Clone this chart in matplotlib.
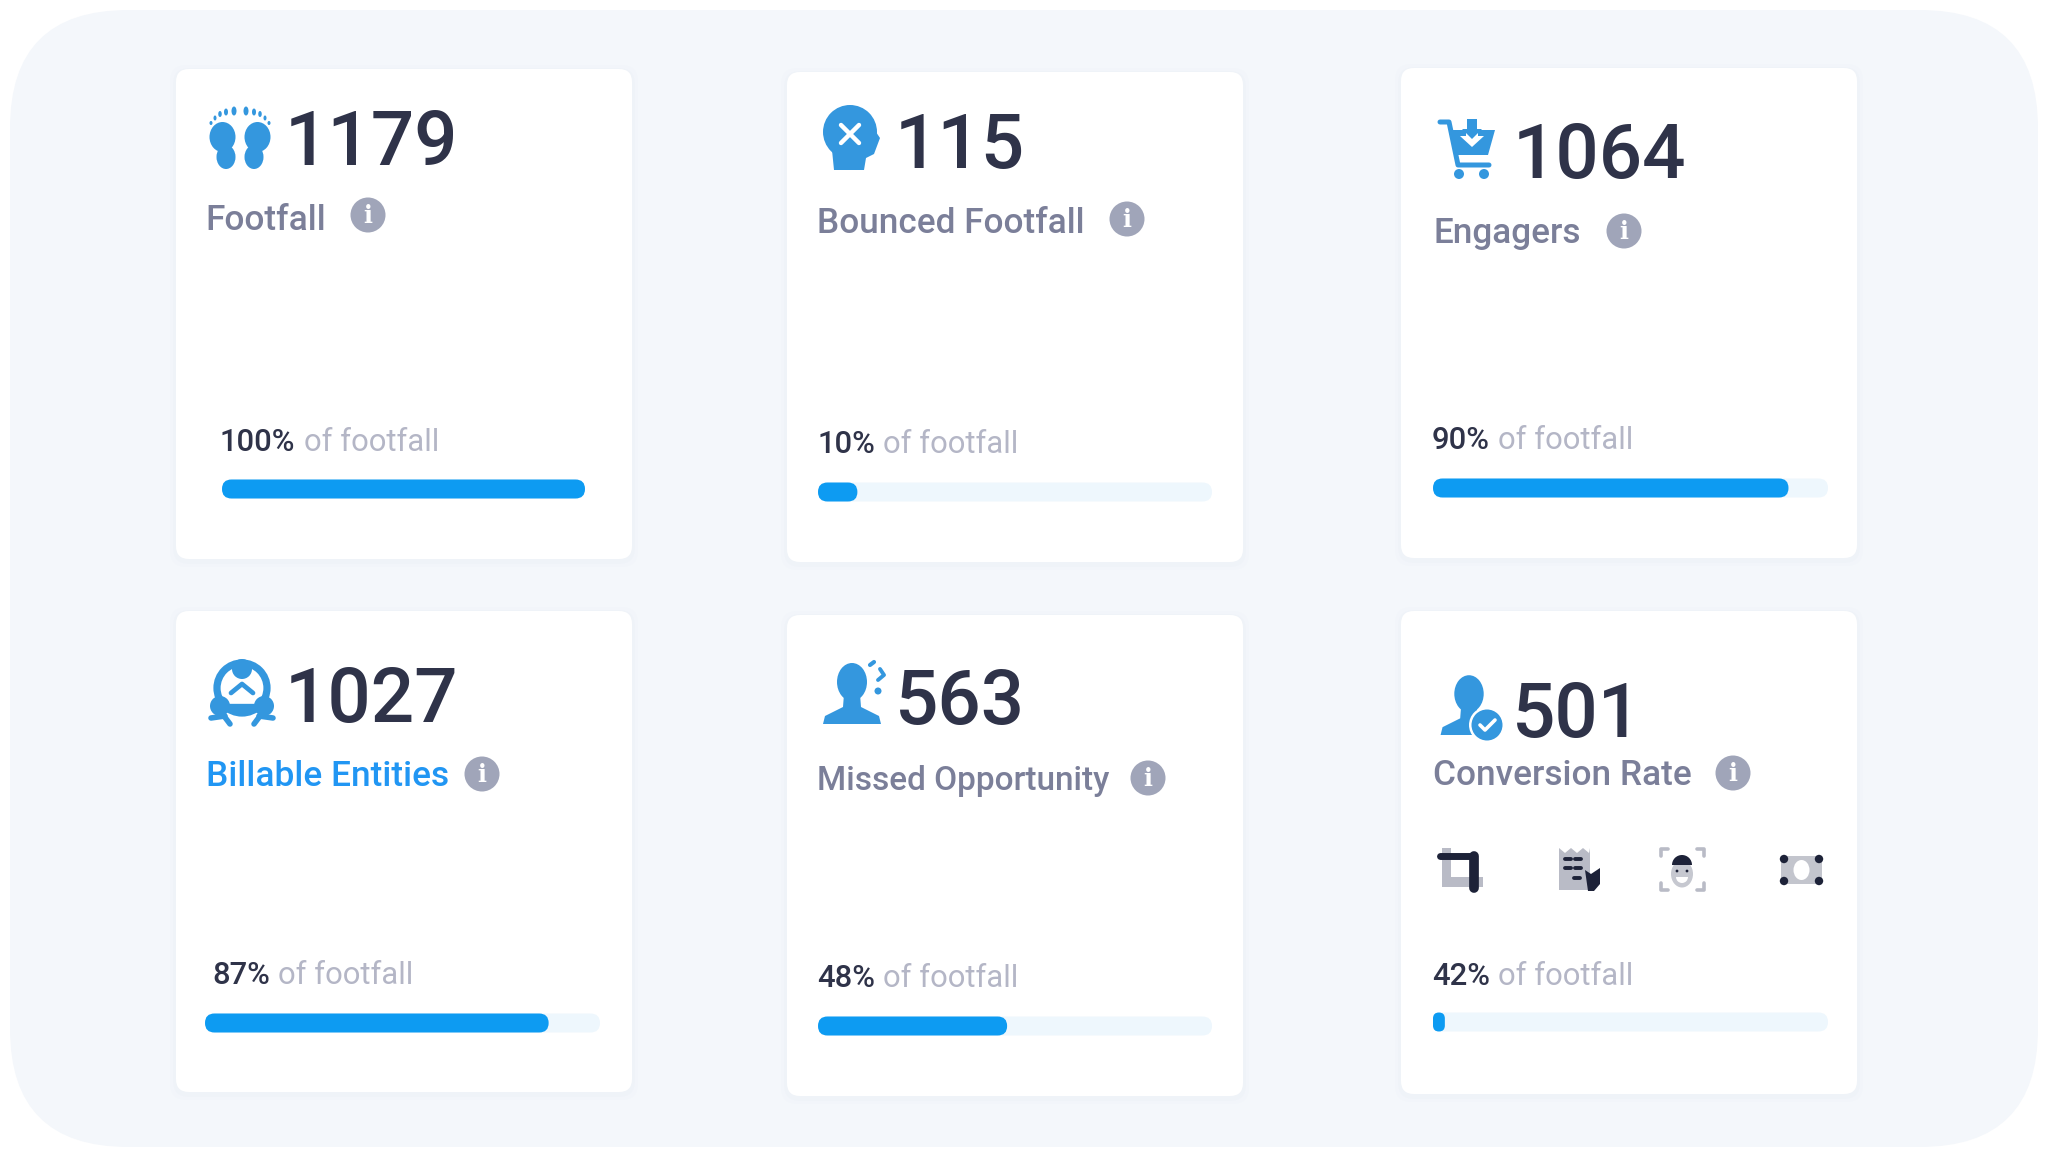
import matplotlib
matplotlib.use("Agg")
import matplotlib.pyplot as plt
from matplotlib.patches import FancyBboxPatch, Circle, Ellipse, Polygon, Rectangle, Wedge

# ------ data ------
titres = ["Footfall", "Bounced Footfall", "Engagers", "Billable Entities", "Missed Opportunity", "Conversion Rate"]
valeurs = ["1179", "115", "1064", "1027", "563", "501"]
pourcents = ["100%", "10%", "90%", "87%", "48%", "42%"]
remplissage = [1.00, 0.10, 0.90, 0.87, 0.48, 0.03]  # the last bar really is almost empty in the source

# ------ layout (pixels), one entry per card ------
cartes = [(176, 69, 456, 490), (787, 72, 456, 490), (1401, 68, 456, 490),
          (176, 611, 456, 481), (787, 615, 456, 481), (1401, 611, 456, 483)]
pos_valeur = [(285, 165), (895, 168), (1513, 178), (285, 722), (895, 724), (1512, 737)]
pos_titre = [(205, 230), (817, 233), (1433, 243), (206, 786), (817, 790), (1433, 785)]
taille_titre = [25.4, 25.3, 25.3, 25.4, 24.0, 25.4]
pos_info = [(368, 215), (1127, 219), (1624, 231), (482, 774), (1148, 778), (1733, 773)]
pos_pct = [(220, 451), (817, 453), (1432, 449), (212, 984), (817, 987), (1432, 985)]
barres = [(222, 585, 489), (818, 1212, 492), (1433, 1828, 488),
          (205, 600, 1023), (818, 1212, 1026), (1433, 1828, 1022)]

FOND = "#f4f7fb"
BLEU_ICONE = "#3497de"
BLEU_BARRE = "#0d9bf2"
PISTE = "#eef7fd"
SOMBRE = "#2f3349"
GRIS_TITRE = "#7b7f99"
GRIS_CLAIR = "#b4b6c6"
GRIS_INFO = "#a0a5b9"
GRIS_ICONE = "#b9bbc6"
NOIR_ICONE = "#1d2238"

plt.rcParams["font.family"] = ["Roboto", "DejaVu Sans"]

fig = plt.figure(figsize=(20.48, 11.58), dpi=100, facecolor="white")
ax = fig.add_axes([0, 0, 1, 1])
ax.set_xlim(0, 2048)
ax.set_ylim(1158, 0)
ax.axis("off")


def arrondi(x, y, w, h, r, couleur, z=1, **kw):
    p = FancyBboxPatch((x, y), w, h, boxstyle=f"round,pad=0,rounding_size={r}",
                       facecolor=couleur, edgecolor="none", zorder=z, **kw)
    ax.add_patch(p)
    return p


def trait(xs, ys, couleur, lw, z=5, cap="round"):
    ax.plot(xs, ys, color=couleur, lw=lw, solid_capstyle=cap, solid_joinstyle="round", zorder=z)


def personne(cx, bas, echelle, couleur):
    # head, neck and shoulders silhouette
    ax.add_patch(Ellipse((cx, bas - 42 * echelle), 30 * echelle, 38 * echelle, color=couleur, lw=0, zorder=5))
    ax.add_patch(Polygon([(cx - 29 * echelle, bas), (cx - 27 * echelle, bas - 8 * echelle),
                          (cx - 9 * echelle, bas - 17 * echelle), (cx - 8 * echelle, bas - 30 * echelle),
                          (cx + 8 * echelle, bas - 30 * echelle), (cx + 9 * echelle, bas - 17 * echelle),
                          (cx + 27 * echelle, bas - 8 * echelle), (cx + 29 * echelle, bas)],
                         closed=True, color=couleur, lw=0, zorder=5))


def icone_pieds():
    for sens in (-1, 1):
        ax.add_patch(Ellipse((240 + sens * 17.5, 137), 26, 30, color=BLEU_ICONE, lw=0, zorder=5))
        ax.add_patch(Ellipse((240 + sens * 14, 157), 19, 24, color=BLEU_ICONE, lw=0, zorder=5))
        orteils = [(6, 111, 5, 9), (14, 112, 4, 7), (20, 114, 3.5, 6), (25, 118, 3, 5), (29, 123, 3, 4)]
        for dx, y, w, h in orteils:
            ax.add_patch(Ellipse((240 + sens * dx, y), w, h, color=BLEU_ICONE, lw=0, zorder=5))


def icone_tete():
    ax.add_patch(Circle((850, 132), 27, color=BLEU_ICONE, lw=0, zorder=5))
    ax.add_patch(Polygon([(832, 150), (834, 170), (864, 170), (866, 158), (874, 154), (880, 138), (872, 126)],
                         closed=True, color=BLEU_ICONE, lw=0, zorder=5))
    trait([841, 859], [125, 143], "white", 3.2, z=6)
    trait([859, 841], [125, 143], "white", 3.2, z=6)


def icone_panier():
    trait([1440, 1449, 1458, 1489], [122, 122, 165, 165], BLEU_ICONE, 3.6)
    ax.add_patch(Polygon([(1449, 130), (1495, 130), (1488, 155), (1455, 155)], closed=True,
                         color=BLEU_ICONE, lw=0, zorder=5))
    ax.add_patch(Polygon([(1466, 128), (1478, 128), (1478, 136), (1484, 136), (1472, 147), (1460, 136), (1466, 136)],
                         closed=True, color="white", lw=0, zorder=6))
    ax.add_patch(Polygon([(1467, 119), (1477, 119), (1477, 129), (1482, 129), (1472, 139), (1462, 129), (1467, 129)],
                         closed=True, color=BLEU_ICONE, lw=0, zorder=7))
    for x in (1459, 1484):
        ax.add_patch(Circle((x, 174), 5, color=BLEU_ICONE, lw=0, zorder=5))


def icone_entites():
    ax.add_patch(Ellipse((242, 688), 50, 50, fill=False, ec=BLEU_ICONE, lw=5.2, zorder=5))
    ax.add_patch(Circle((242, 669), 10, color=BLEU_ICONE, lw=0, zorder=6))
    trait([231, 242, 253], [693, 684, 693], BLEU_ICONE, 3.4)
    trait([224, 260], [708, 708], BLEU_ICONE, 6)
    for cx, sens in ((220, -1), (264, 1)):
        ax.add_patch(Circle((cx, 706), 10, color=BLEU_ICONE, lw=0, zorder=6))
        trait([cx + 9 * sens, cx - 5 * sens], [718, 716], BLEU_ICONE, 4)
        trait([cx - 4 * sens, cx - 10 * sens], [716, 724], BLEU_ICONE, 4)


def icone_manquee():
    personne(852, 724, 1.0, BLEU_ICONE)
    trait([870, 874], [665, 662], BLEU_ICONE, 3)
    trait([880, 884, 878], [669, 675, 680], BLEU_ICONE, 2.8)
    ax.add_patch(Circle((878, 691), 3.5, color=BLEU_ICONE, lw=0, zorder=5))


def icone_conversion():
    personne(1469, 735, 0.98, BLEU_ICONE)
    ax.add_patch(Circle((1487, 725), 18, color="white", lw=0, zorder=6))
    ax.add_patch(Circle((1487, 725), 15.5, color=BLEU_ICONE, lw=0, zorder=7))
    trait([1480, 1485, 1495], [725, 730, 720], "white", 2.6, z=8)


def icones_moyens():
    # crop tool
    ax.add_patch(Rectangle((1442, 848), 9, 39, color=GRIS_ICONE, lw=0, zorder=5))
    ax.add_patch(Rectangle((1442, 877), 41, 10, color=GRIS_ICONE, lw=0, zorder=5))
    trait([1440, 1473], [856, 856], NOIR_ICONE, 5, z=6)
    trait([1474, 1474], [856, 888], NOIR_ICONE, 7, z=6)
    # receipt with hand
    dents = [(1559, 848), (1565, 853), (1571, 848), (1577, 853), (1583, 848), (1589, 853), (1590, 848)]
    ax.add_patch(Polygon(dents + [(1590, 890), (1559, 890)], closed=True, color=GRIS_ICONE, lw=0, zorder=5))
    for y, xs in ((859, [(1565, 1571), (1575, 1581)]), (868, [(1565, 1571), (1575, 1581)]), (878, [(1574, 1580)])):
        for x0, x1 in xs:
            trait([x0, x1], [y, y], NOIR_ICONE, 2.8, z=6)
    ax.add_patch(Polygon([(1585, 870), (1591, 874), (1600, 868), (1600, 884), (1594, 891), (1588, 891)],
                         closed=True, color=NOIR_ICONE, lw=0, zorder=6))
    # face scan
    for cx, cy, sx, sy in ((1661, 849, 1, 1), (1704, 849, -1, 1), (1661, 890, 1, -1), (1704, 890, -1, -1)):
        trait([cx + 7 * sx, cx, cx], [cy, cy, cy + 7 * sy], GRIS_ICONE, 2.6)
    ax.add_patch(Ellipse((1682, 874), 22, 27, color="#c6c8d0", lw=0, zorder=5))
    ax.add_patch(Wedge((1682, 865), 10, 180, 360, color=NOIR_ICONE, lw=0, zorder=6))
    ax.add_patch(Wedge((1682, 877), 6, 0, 180, color="white", lw=0, zorder=6))
    for x in (1677, 1687):
        ax.add_patch(Circle((x, 871), 1.4, color=NOIR_ICONE, lw=0, zorder=6))
    # banknote
    ax.add_patch(Rectangle((1781, 856), 41, 28, color="#c3c5cd", lw=0, zorder=5))
    ax.add_patch(Ellipse((1801.5, 870), 16, 20, color="white", lw=0, zorder=6))
    for x in (1784, 1819):
        for y in (859, 881):
            ax.add_patch(Circle((x, y), 4.2, color=NOIR_ICONE, lw=0, zorder=6))


# ------ background ------
arrondi(10, 10, 2028, 1137, 118, FOND, z=0)

# ------ cards ------
for i, (x, y, w, h) in enumerate(cartes):
    for marge, alpha in ((6, 0.012), (3, 0.014)):
        arrondi(x - marge, y - marge + 2, w + 2 * marge, h + 2 * marge, 16, "#5a7aa8", z=1, alpha=alpha)
    arrondi(x, y, w, h, 13, "white", z=2)

    ax.text(pos_valeur[i][0], pos_valeur[i][1], valeurs[i], fontsize=55, fontweight="medium",
            color=SOMBRE, va="baseline", ha="left", zorder=5)
    couleur_titre = "#2196f3" if titres[i] == "Billable Entities" else GRIS_TITRE
    ax.text(pos_titre[i][0], pos_titre[i][1], titres[i], fontsize=taille_titre[i], fontweight="medium",
            color=couleur_titre, va="baseline", ha="left", zorder=5)

    cx, cy = pos_info[i]
    ax.add_patch(Circle((cx, cy), 17.5, color=GRIS_INFO, lw=0, zorder=5))
    ax.text(cx, cy + 1, "i", fontsize=17, fontweight="bold", family="DejaVu Serif",
            color="white", va="center", ha="center", zorder=6)

    # "xx% of footfall" in two colours
    t = ax.text(pos_pct[i][0], pos_pct[i][1], pourcents[i], fontsize=22.3, fontweight="medium",
                color=SOMBRE, va="baseline", ha="left", zorder=5)
    largeur = t.get_window_extent(fig.canvas.get_renderer()).width
    ax.text(pos_pct[i][0] + largeur + 8, pos_pct[i][1], "of footfall", fontsize=22.3,
            color=GRIS_CLAIR, va="baseline", ha="left", zorder=5)

    # progress bar
    x0, x1, yc = barres[i]
    haut = 19
    arrondi(x0, yc - haut / 2, x1 - x0, haut, haut / 2, PISTE, z=3)
    lf = (x1 - x0) * remplissage[i]
    arrondi(x0, yc - haut / 2, lf, haut, min(lf, haut) / 2, BLEU_BARRE, z=4)

icone_pieds()
icone_tete()
icone_panier()
icone_entites()
icone_manquee()
icone_conversion()
icones_moyens()

plt.savefig("out.png", dpi=100, facecolor="white")
